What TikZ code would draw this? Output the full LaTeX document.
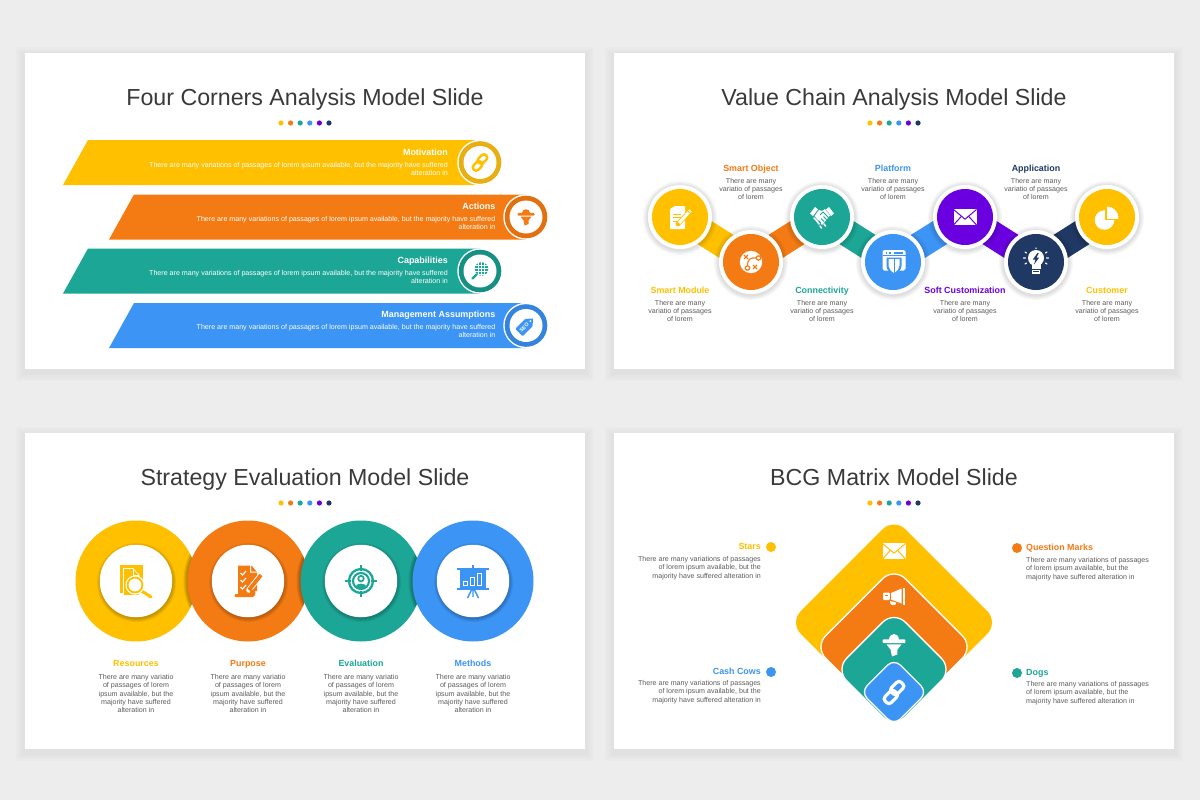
\documentclass[tikz,border=0pt]{standalone}
\usepackage{fontspec}
\setmainfont{Liberation Sans}
\usetikzlibrary{calc}
\definecolor{pagebg}{HTML}{EEEDED}
\definecolor{cy}{HTML}{FFC000}
\definecolor{co}{HTML}{F47B14}
\definecolor{ct}{HTML}{1CA696}
\definecolor{cb}{HTML}{3C94F5}
\definecolor{cp}{HTML}{6A00E0}
\definecolor{cn}{HTML}{1F3864}
\definecolor{cyd}{HTML}{E8AE12}
\definecolor{cod}{HTML}{E2700F}
\definecolor{ctd}{HTML}{169084}
\definecolor{cbd}{HTML}{3483DE}
\definecolor{ttlc}{HTML}{3A3A3A}
\definecolor{bodyc}{HTML}{5C5C5C}
\colorlet{ic}{white}\colorlet{ib}{black}
\def\ilw{2.4pt}
\pgfdeclarelayer{bg}\pgfdeclarelayer{links}\pgfsetlayers{bg,links,main}
\tikzset{
 icol/.code={\colorlet{ic}{#1}},
 ibg/.code={\colorlet{ib}{#1}},
 iconlw/.code={\def\ilw{#1}},
 card/.style={fill=white,draw=none},
 slidetitle/.style={font=\fontsize{23.2}{28}\selectfont,text=ttlc,inner sep=0pt,text height=17pt,text depth=5pt},
 dot/.style={circle,inner sep=0pt,minimum size=5.2pt,fill=#1},
 bandhead/.style={font=\fontsize{8.95}{11}\bfseries\selectfont,text=white,anchor=east,inner sep=0pt,text height=6.5pt,text depth=1.9pt},
 bandbody/.style={font=\fontsize{7.1}{8.1}\selectfont,text=white,anchor=north east,align=right,inner sep=0pt},
 head/.style={font=\fontsize{8.9}{11}\bfseries\selectfont,text=#1,inner sep=0pt,text height=6.5pt,text depth=1.9pt},
 body/.style={font=\fontsize{7.1}{8.2}\selectfont,text=bodyc,align=center,inner sep=0pt},
 ringnode/.style={circle,inner sep=0pt,outer sep=0pt,minimum size=#1,draw=none},
 linkband/.style={line width=27pt,draw=#1},
 diam/.style n args={3}{rectangle,rotate=45,inner sep=0pt,outer sep=0pt,minimum size=#1,rounded corners=#2,fill=#3,draw=white,line width=1.3pt},
 pics/linkicon/.style={code={
  \begin{scope}[rotate=45]
  \draw[ic,line width=\ilw,rounded corners=3.2pt] (-9.5,-2.6) rectangle (1.2,4);
  \draw[ic,line width=\ilw,rounded corners=3.2pt] (-1.2,-4) rectangle (9.5,2.6);
  \end{scope}}},
 pics/funnelicon/.style={code={
  \fill[ic] (-4,-4) .. controls (-4,-9.5) and (4,-9.5) .. (4,-4) -- cycle;
  \fill[ic,rounded corners=1pt] (-8.5,-4.2) rectangle (8.5,-1.4);
  \fill[ic] (-5.5,-0.4) -- (5.5,-0.4) -- (2.5,3.5) -- (2.5,7) -- (-1.5,8.5) -- (-2.5,3.5) -- cycle;}},
 pics/globeicon/.style={code={
  \fill[ic] (1.5,-2) circle (6.8);
  \foreach \q in {-5,-2,1,4}{\draw[ib,line width=.7pt] (-6,\q-.5) -- (9,\q-.5);}
  \foreach \q in {-2,1,4}{\draw[ib,line width=.7pt] (\q,-9) -- (\q,5);}
  \draw[ib,line width=1.4pt] (-3.2,2.5) -- (-4.5,3.8);
  \draw[ic,line width=2.4pt,line cap=round] (-3.2,3.2) -- (-7.5,7.5);}},
 pics/tagicon/.style={code={
  \begin{scope}[rotate=45]
  \fill[ic,rounded corners=.8pt] (-10,-5.2) -- (4,-5.2) -- (10,0) -- (4,5.2) -- (-10,5.2) -- cycle;
  \fill[ib] (6.2,0) circle (1);
  \node[inner sep=0pt,text=ib,rotate=45,font=\fontsize{5.2}{6}\bfseries\selectfont] (seotext) at (-2.6,0) {SEO};
  \end{scope}}},
 pics/docpenicon/.style={code={
  \fill[ic,rounded corners=.8pt] (-11,-9) -- (-6,-12) -- (4,-12) -- (4,11) -- (-11,11) -- cycle;
  \foreach \q in {-4,-.5,3}{\draw[ib,line width=.9pt] (-8,\q) -- (0,\q);}
  \draw[ib,line width=4.6pt,line cap=round] (-3,6) -- (8,-6);
  \draw[ic,line width=3pt] (-2,5) -- (9.5,-7.5);
  \draw[ib,line width=.8pt] (6.5,-7.5) -- (9,-5);}},
 pics/blobicon/.style={code={
  \fill[ic] (0,0) circle (11.2);
  \draw[ib,line width=1.2pt] (-7,-7) -- (-3,-3) (-7,-3) -- (-3,-7) (2,3) -- (6,7) (2,7) -- (6,3);
  \draw[ib,line width=1.2pt] (-3.5,6) circle (2.2) (7.5,-4) circle (2.2);
  \draw[ib,line width=1.1pt] (-3.5,3.6) .. controls (-3.5,-3) and (-.5,-4.5) .. (5,-4);}},
 pics/shakeicon/.style={code={
  \fill[ic] (-12,-3.5) -- (-7,-10) -- (-4,-7.5) -- (-9,-1) -- cycle;
  \fill[ic] (12,-3.5) -- (7,-10) -- (4,-7.5) -- (9,-1) -- cycle;
  \fill[ic] (-7.5,-1) -- (-3,-7) -- (0,-6) -- (3,-8) -- (8,-1.5) -- (0,8) -- cycle;
  \draw[ib,line width=.8pt] (-2,-2) -- (1,-5) -- (7,1);
  \draw[ib,line width=.8pt] (-3.5,3.5) -- (-1,6) (-1,1.5) -- (2,4.5) (1.5,-.5) -- (4.5,2.5);
  \draw[ic,line width=1.6pt,line cap=round] (-8,1) -- (-5.5,3.5) (-5.5,3.5) -- (-3,7) (-2,9) -- (-.5,11) (2,7) -- (3.5,9);}},
 pics/browsericon/.style={code={
  \fill[ic,rounded corners=1.6pt] (-11.5,-12) rectangle (11.5,8.5);
  \draw[ib,line width=1.1pt] (-8.5,-9) -- (-7,-9) (-5,-9) -- (-3.5,-9) (-.5,-9) -- (8.5,-9);
  \draw[ib,line width=1pt] (-11.5,-6.2) -- (11.5,-6.2);
  \fill[ib] (-7.5,-4.5) -- (7.5,-4.5) -- (7.5,4) .. controls (7.5,8) and (4,10.5) .. (0,13) .. controls (-4,10.5) and (-7.5,8) .. (-7.5,4) -- cycle;
  \fill[ic] (-5.5,-3) -- (5.5,-3) -- (5.5,3.5) .. controls (5.5,7) and (3,9) .. (0,11) .. controls (-3,9) and (-5.5,7) .. (-5.5,3.5) -- cycle;
  \draw[ib,line width=.9pt] (0,-3) -- (0,11);}},
 pics/mailicon/.style={code={
  \fill[ic] (-11.5,-8) rectangle (11.5,8);
  \draw[ib,line width=1pt,line join=miter] (-11.5,-7.5) -- (0,2.2) -- (11.5,-7.5);
  \draw[ib,line width=1pt] (-11.5,8) -- (-3.5,-.8) (11.5,8) -- (3.5,-.8);}},
 pics/bulbicon/.style={code={
  \fill[ic] (0,-3) circle (8);
  \fill[ic] (-4.5,2) rectangle (4.5,8);
  \fill[ic] (-4,9) rectangle (4,12.5);
  \draw[ib,line width=.7pt] (-3,10.7) -- (3,10.7);
  \fill[ib] (1.5,-8) -- (-3.2,-1.5) -- (-.5,-1.5) -- (-2,3.5) -- (3.2,-3.5) -- (.5,-3.5) -- (2.8,-8) -- cycle;
  \draw[ic,line width=1.2pt,line cap=round] (-12.5,-3) -- (-10.5,-3) (12.5,-3) -- (10.5,-3) (-11,-9) -- (-9.5,-8) (11,-9) -- (9.5,-8) (-11,3) -- (-9.5,2) (11,3) -- (9.5,2) (0,-13) -- (0,-12.4);}},
 pics/pieicon/.style={code={
  \fill[ic] (-2.5,3) circle (9.8);
  \fill[ib] (-2.5,3) rectangle (8,-8);
  \begin{scope}
  \clip (0,1) rectangle (12,-11);
  \fill[ic] (0,1) circle (11.5);
  \end{scope}}},
 pics/findicon/.style={code={
  \fill[ic] (-16,-16) rectangle (7,12);
  \draw[ib,line width=.7pt,fill=ic] (-12.5,-12.5) -- (-3,-12.5) -- (3,-6) -- (3,14.5) -- (-12.5,14.5) -- cycle;
  \draw[ib,line width=.7pt] (-3,-12.5) -- (-3,-6) -- (3,-6);
  \draw[ic,line width=3pt,line cap=round] (5,9.5) -- (15,16);
  \fill[ib] (-1,4) circle (9.6);
  \fill[ic] (-1,4) circle (8.4);
  \fill[ib] (-1,4) circle (6.4);
  }},
 pics/checkicon/.style={code={
  \fill[ic] (-10,-15.5) -- (3.5,-15.5) -- (9,-9) -- (9,10) -- (5,10) -- (5,14) -- (-10,14) -- cycle;
  \fill[ib] (3.2,-15.5) -- (3.2,-9.5) -- (9,-9.5) -- (9.5,-8.5) -- (2.2,-8.5) -- (2.2,-15.5) -- cycle;
  \foreach \q in {-8,-1,6}{\draw[ib,line width=1.1pt] (-7.5,\q) -- (-5.5,\q+2) -- (-2,\q-2);}
  \draw[ib,line width=5.6pt,line cap=round] (1,9) -- (13,-6);
  \draw[ic,line width=3.8pt] (1,9) -- (13,-6);
  \fill[ic,rounded corners=1pt] (-13.5,13) rectangle (4,16);
  \fill[ic] (2,8) -- (2,16) .. controls (7,17) and (8,13) .. (7,9) -- cycle;}},
 pics/targeticon/.style={code={
  \draw[ic,line width=2.3pt] (0,0) circle (12);
  \draw[ic,line width=2.1pt] (0,0) circle (8);
  \draw[ic,line width=2.6pt] (0,-16) -- (0,-10) (0,16) -- (0,10) (-16,0) -- (-10,0) (16,0) -- (10,0);
  \draw[ic,line width=1.7pt] (0,-2.4) circle (2.8);
  \fill[ic] (-5.5,6) .. controls (-5,1.5) and (5,1.5) .. (5.5,6) .. controls (2,8.5) and (-2,8.5) .. (-5.5,6) -- cycle;}},
 pics/boardicon/.style={code={
  \fill[ic] (-13,-13) rectangle (13,7);
  \fill[ic] (-16,-13.5) rectangle (16,-11.5);
  \fill[ic] (-16,7) rectangle (16,9);
  \fill[ic] (-1,-16.5) rectangle (1,-12);
  \draw[ic,line width=1.4pt] (0,8) -- (0,16) (-1,8) -- (-5.5,17) (1,8) -- (5.5,17);
  \foreach \xa/\xb/\ya in {-10/-5/0,-3/2/-4,4/9/-8}{
   \fill[ib] (\xa,\ya) rectangle (\xb,5);
   \fill[ic] (\xa+1.4,\ya+1.4) rectangle (\xb-1.4,3.6);}
  }},
 pics/horn/.style={code={
  \fill[ic] (-3,-3.5) -- (7.5,-8) -- (7.5,7) -- (-3,3) -- cycle;
  \fill[ic] (8.8,-9) rectangle (11,8.5);
  \fill[ic,rounded corners=1pt] (-11,-4) rectangle (-4.2,3.5);
  \draw[ib,line width=.8pt] (-9,-1) -- (-6,-1);
  \fill[ic] (-4,4.5) -- (2,6) -- (1.5,8) .. controls (-1,9.5) and (-4,9) .. (-4,4.5) -- cycle;}}
}
\newcommand{\softshadow}[3]{% x y r
 \foreach \k in {5,3.8,2.6,1.4}{\fill[black,opacity=.03] (#1,#2+1) circle (#3+\k);}}
\newcommand{\hardshadow}[3]{% clipped crescent
 \foreach \k in {4,3,2,1}{\fill[black,opacity=.08] (#1,#2) circle (#3+\k);}}
\begin{document}
\begin{tikzpicture}[x=1pt,y=-1pt]
\useasboundingbox (0,0) rectangle (1200,800);
\begin{pgfonlayer}{bg}
\fill[pagebg] (0,0) rectangle (1200,800);
\foreach \a/\b in {25/53,614/53,25/433,614/433}{
  \foreach \k in {9,7,5,3}{\fill[black,opacity=.01] (\a-\k,\b-\k+3) rectangle (\a+560+\k,\b+316+\k+3);}
  \fill[card] (\a,\b) rectangle (\a+560,\b+316);
  \foreach \q/\c in {0/cy,1/co,2/ct,3/cb,4/cp,5/cn}{
    \fill[\c] (\a+256+9.6*\q,\b+70) circle (2.6);}
}
\end{pgfonlayer}
\node[slidetitle] (t1) at (305,99) {Four Corners Analysis Model Slide};
\node[slidetitle] (t2) at (894,99) {Value Chain Analysis Model Slide};
\node[slidetitle] (t3) at (305,479) {Strategy Evaluation Model Slide};
\node[slidetitle] (t4) at (894,479) {BCG Matrix Model Slide};

% ---------- Four corners
\foreach \lx/\cx/\ty/\col/\dcol/\nm in {63/480/140/cy/cyd/a,109/526/194.5/co/cod/b,63/480/248.5/ct/ctd/c,109/526/303/cb/cbd/d}{
  \fill[\col] (\lx+25,\ty) -- (\cx,\ty) -- (\cx,\ty+45) -- (\lx,\ty+45) -- cycle;
  \node[ringnode=45.5pt,fill=white] (ro\nm) at (\cx,\ty+22.5) {};
  \node[ringnode=42.6pt,fill=\dcol] (rm\nm) at (\cx,\ty+22.5) {};
  \node[ringnode=33pt,fill=white] (ri\nm) at (\cx,\ty+22.5) {};
}
\pic[icol=cy,ibg=white] at (480,162.5) {linkicon};
\pic[icol=co,ibg=white] at (526,217) {funnelicon};
\pic[icol=ct,ibg=white] at (480,271) {globeicon};
\pic[icol=cb,ibg=white] at (526,325.5) {tagicon};
\node[bandhead] (b1h) at (448,153) {Motivation};
\node[bandbody] (b1b) at (448,162.5) {There are many variations of passages of lorem ipsum available, but the majority have suffered\\alteration in};
\node[bandhead] (b2h) at (495.5,207) {Actions};
\node[bandbody] (b2b) at (495.5,216.5) {There are many variations of passages of lorem ipsum available, but the majority have suffered\\alteration in};
\node[bandhead] (b3h) at (448,261) {Capabilities};
\node[bandbody] (b3b) at (448,270.5) {There are many variations of passages of lorem ipsum available, but the majority have suffered\\alteration in};
\node[bandhead] (b4h) at (495.5,315) {Management Assumptions};
\node[bandbody] (b4b) at (495.5,324.5) {There are many variations of passages of lorem ipsum available, but the majority have suffered\\alteration in};

% ---------- Value chain
\foreach \x/\y/\c/\n in {680/217/cy/1,751/262/co/2,822/217/ct/3,893/262/cb/4,965/217/cp/5,1036/262/cn/6,1107/217/cy/7}{
  \softshadow{\x}{\y}{32}
  \node[ringnode=64pt,fill=white] (vo\n) at (\x,\y) {};
  \node[ringnode=56pt,fill=\c] (v\n) at (\x,\y) {};
}
\begin{pgfonlayer}{links}
\draw[linkband=cy] (v1.center) -- (v2.center);
\draw[linkband=co] (v2.center) -- (v3.center);
\draw[linkband=ct] (v3.center) -- (v4.center);
\draw[linkband=cb] (v4.center) -- (v5.center);
\draw[linkband=cp] (v5.center) -- (v6.center);
\draw[linkband=cn] (v6.center) -- (v7.center);
\end{pgfonlayer}
\pic[icol=white,ibg=cy] at (681,218) {docpenicon};
\pic[icol=white,ibg=co] at (751,262) {blobicon};
\pic[icol=white,ibg=ct] at (822,217) {shakeicon};
\pic[icol=white,ibg=cb] at (894,262) {browsericon};
\pic[icol=white,ibg=cp] at (965,217) {mailicon};
\pic[icol=white,ibg=cn] at (1036,261) {bulbicon};
\pic[icol=white,ibg=cy] at (1107,217) {pieicon};
\foreach \x/\y/\c/\t/\n in {680/291/cy/Smart Module/1,751/169/co/Smart Object/2,822/291/ct/Connectivity/3,893/169/cb/Platform/4,965/291/cp/Soft Customization/5,1036/169/cn/Application/6,1107/291/cy/Customer/7}{
  \node[head=\c] (vh\n) at (\x,\y) {\t};
  \node[body] (vb\n) at (\x,\y+20) {There are many\\variatio of passages\\of lorem};
}

% ---------- Strategy evaluation
\node[ringnode=121pt,fill=cy] (s1) at (136,581) {};
\foreach \p/\q/\c/\n in {136/248/co/2,248/361/ct/3,361/473/cb/4}{
  \begin{scope}
    \clip (\p,581) circle (60.5);
    \hardshadow{\q}{581}{60.5}
  \end{scope}
  \node[ringnode=121pt,fill=\c] (s\n) at (\q,581) {};
}
\foreach \x/\n in {136/1,248/2,361/3,473/4}{
  \foreach \k in {3.5,2.5,1.5,.5}{\fill[black,opacity=.06] (\x+.6,581+1.5) circle (36+\k);}
  \node[ringnode=72.5pt,fill=white] (si\n) at (\x,581) {};
}
\pic[icol=cy,ibg=white] at (136,581) {findicon};
\pic[icol=co,ibg=white] at (248,581) {checkicon};
\pic[icol=ct,ibg=white] at (361,581) {targeticon};
\pic[icol=cb,ibg=white] at (473,581) {boardicon};
\foreach \x/\c/\t/\n in {136/cy/Resources/1,248/co/Purpose/2,361/ct/Evaluation/3,473/cb/Methods/4}{
  \node[head=\c] (sh\n) at (\x,664) {\t};
  \node[body,font=\fontsize{7.1}{8.45}\selectfont] (sb\n) at (\x,693.5) {There are many variatio\\of passages of lorem\\ipsum available, but the\\majority have suffered\\alteration in};
}

% ---------- BCG
\node[diam={147.9pt}{16pt}{cy},draw=none] (d1) at (894,622.5) {};
\node[diam={112.6pt}{16pt}{co}] (d2) at (894,647) {};
\node[diam={82.9pt}{16pt}{ct}] (d3) at (894,669.5) {};
\node[diam={47pt}{9pt}{cb}] (d4) at (894,692) {};
\pic[icol=white,ibg=cy] at (894,551) {mailicon};
\pic[icol=white,ibg=co] at (894,596.5) {horn};
\pic[icol=white,ibg=ct,scale=1.35] at (894,645) {funnelicon};
\pic[icol=white,ibg=cb,scale=1.3,iconlw=3.2pt] at (894,692.5) {linkicon};
\foreach \x/\y/\c/\n in {771/547/cy/1,771/672/cb/2,1017/548/co/3,1017/673/ct/4}{
  \node[dot=\c,minimum size=10pt] (bd\n) at (\x,\y) {};
}
\node[head=cy,anchor=east] (bh1) at (761,547) {Stars};
\node[body,anchor=east,align=right] (bb1) at (761,568) {There are many variations of passages\\of lorem ipsum available, but the\\majority have suffered alteration in};
\node[head=cb,anchor=east] (bh2) at (761,672) {Cash Cows};
\node[body,anchor=east,align=right] (bb2) at (761,692) {There are many variations of passages\\of lorem ipsum available, but the\\majority have suffered alteration in};
\node[head=co,anchor=west] (bh3) at (1026,548) {Question Marks};
\node[body,anchor=west,align=left] (bb3) at (1026,569) {There are many variations of passages\\of lorem ipsum available, but the\\majority have suffered alteration in};
\node[head=ct,anchor=west] (bh4) at (1026,673) {Dogs};
\node[body,anchor=west,align=left] (bb4) at (1026,693) {There are many variations of passages\\of lorem ipsum available, but the\\majority have suffered alteration in};
\end{tikzpicture}
\end{document}
